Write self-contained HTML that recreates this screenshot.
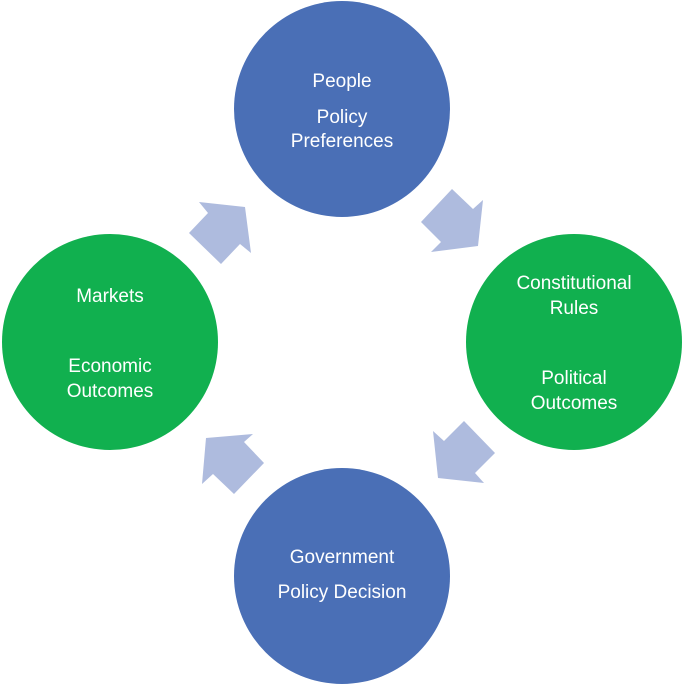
<!DOCTYPE html>
<html><head><style>html,body{margin:0;padding:0;background:#fff}</style></head>
<body>
<svg width="685" height="685" viewBox="0 0 685 685" xmlns="http://www.w3.org/2000/svg">
<circle cx="342" cy="109" r="108" fill="#4a6fb6"/>
<circle cx="574" cy="342" r="108" fill="#11b04f"/>
<circle cx="342" cy="576" r="108" fill="#4a6fb6"/>
<circle cx="110" cy="342" r="108" fill="#11b04f"/>
<g fill="#aebbde">
<polygon points="199,202 245,207 251,253 240,244 221,264 189,233 208,213"/>
<polygon points="452,189 473,209 483,200 478,246 431,252 441,242 421,222"/>
<polygon points="464,421 495,453 475,473 484,483 438,478 433,431 444,441"/>
<polygon points="202,484 206,438 253,434 244,442 264,463 234,494 213,474"/>
</g>
<g fill="#fff" font-family="Liberation Sans, sans-serif" font-size="19" text-anchor="middle">
<text x="342" y="87">People</text>
<text x="342" y="123">Policy</text>
<text x="342" y="147">Preferences</text>
<text x="574" y="289">Constitutional</text>
<text x="574" y="314">Rules</text>
<text x="574" y="384">Political</text>
<text x="574" y="409">Outcomes</text>
<text x="110" y="302">Markets</text>
<text x="110" y="372">Economic</text>
<text x="110" y="397">Outcomes</text>
<text x="342" y="563">Government</text>
<text x="342" y="598">Policy Decision</text>
</g>
</svg>
</body></html>
